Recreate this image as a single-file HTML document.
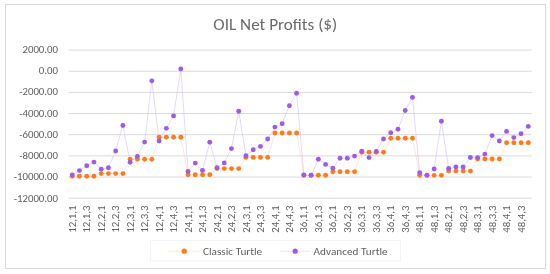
<!DOCTYPE html>
<html><head><meta charset="utf-8"><style>
html,body{margin:0;padding:0;background:#fff;}
svg{display:block;}
text{font-family:Carlito, 'Liberation Sans', sans-serif;fill:#606060;}
</style></head><body>
<svg width="550" height="274" viewBox="0 0 550 274">
<rect x="0" y="0" width="550" height="274" fill="#fff"/>
<rect x="5.5" y="4.5" width="540" height="264" fill="#fff" stroke="#D9D9D9" stroke-width="1"/>
<text transform="translate(275.3,30.2) scale(1,0.94)" text-anchor="middle" font-size="17.15" style="fill:#6a6a6a" textLength="123.88" lengthAdjust="spacingAndGlyphs">OIL Net Profits ($)</text>

<line x1="68.60" y1="50.10" x2="531.7" y2="50.10" stroke="#D9D9D9" stroke-width="1"/>
<line x1="68.60" y1="71.26" x2="531.7" y2="71.26" stroke="#D9D9D9" stroke-width="1"/>
<line x1="68.60" y1="92.41" x2="531.7" y2="92.41" stroke="#D9D9D9" stroke-width="1"/>
<line x1="68.60" y1="113.57" x2="531.7" y2="113.57" stroke="#D9D9D9" stroke-width="1"/>
<line x1="68.60" y1="134.73" x2="531.7" y2="134.73" stroke="#D9D9D9" stroke-width="1"/>
<line x1="68.60" y1="155.89" x2="531.7" y2="155.89" stroke="#D9D9D9" stroke-width="1"/>
<line x1="68.60" y1="177.04" x2="531.7" y2="177.04" stroke="#D9D9D9" stroke-width="1"/>
<line x1="68.60" y1="198.20" x2="531.7" y2="198.20" stroke="#D9D9D9" stroke-width="1"/>
<text transform="translate(58,52.65)" text-anchor="end" font-size="10.8" textLength="35.56" lengthAdjust="spacingAndGlyphs">2000.00</text>
<text transform="translate(58,73.95)" text-anchor="end" font-size="10.8" textLength="19.16" lengthAdjust="spacingAndGlyphs">0.00</text>
<text transform="translate(58,95.24)" text-anchor="end" font-size="10.8" textLength="38.88" lengthAdjust="spacingAndGlyphs">-2000.00</text>
<text transform="translate(58,116.54)" text-anchor="end" font-size="10.8" textLength="38.88" lengthAdjust="spacingAndGlyphs">-4000.00</text>
<text transform="translate(58,137.84)" text-anchor="end" font-size="10.8" textLength="38.88" lengthAdjust="spacingAndGlyphs">-6000.00</text>
<text transform="translate(58,159.14)" text-anchor="end" font-size="10.8" textLength="38.88" lengthAdjust="spacingAndGlyphs">-8000.00</text>
<text transform="translate(58,180.43)" text-anchor="end" font-size="10.8" textLength="44.34" lengthAdjust="spacingAndGlyphs">-10000.00</text>
<text transform="translate(58,201.73)" text-anchor="end" font-size="10.8" textLength="44.34" lengthAdjust="spacingAndGlyphs">-12000.00</text>
<text transform="translate(75.82,205.5) rotate(-90)" text-anchor="end" font-size="10.8" textLength="27.28" lengthAdjust="spacingAndGlyphs">12,1,1</text>
<text transform="translate(90.30,205.5) rotate(-90)" text-anchor="end" font-size="10.8" textLength="27.28" lengthAdjust="spacingAndGlyphs">12,1,3</text>
<text transform="translate(104.78,205.5) rotate(-90)" text-anchor="end" font-size="10.8" textLength="27.28" lengthAdjust="spacingAndGlyphs">12,2,1</text>
<text transform="translate(119.25,205.5) rotate(-90)" text-anchor="end" font-size="10.8" textLength="27.28" lengthAdjust="spacingAndGlyphs">12,2,3</text>
<text transform="translate(133.73,205.5) rotate(-90)" text-anchor="end" font-size="10.8" textLength="27.28" lengthAdjust="spacingAndGlyphs">12,3,1</text>
<text transform="translate(148.21,205.5) rotate(-90)" text-anchor="end" font-size="10.8" textLength="27.28" lengthAdjust="spacingAndGlyphs">12,3,3</text>
<text transform="translate(162.69,205.5) rotate(-90)" text-anchor="end" font-size="10.8" textLength="27.28" lengthAdjust="spacingAndGlyphs">12,4,1</text>
<text transform="translate(177.17,205.5) rotate(-90)" text-anchor="end" font-size="10.8" textLength="27.28" lengthAdjust="spacingAndGlyphs">12,4,3</text>
<text transform="translate(191.64,205.5) rotate(-90)" text-anchor="end" font-size="10.8" textLength="27.28" lengthAdjust="spacingAndGlyphs">24,1,1</text>
<text transform="translate(206.12,205.5) rotate(-90)" text-anchor="end" font-size="10.8" textLength="27.28" lengthAdjust="spacingAndGlyphs">24,1,3</text>
<text transform="translate(220.60,205.5) rotate(-90)" text-anchor="end" font-size="10.8" textLength="27.28" lengthAdjust="spacingAndGlyphs">24,2,1</text>
<text transform="translate(235.08,205.5) rotate(-90)" text-anchor="end" font-size="10.8" textLength="27.28" lengthAdjust="spacingAndGlyphs">24,2,3</text>
<text transform="translate(249.56,205.5) rotate(-90)" text-anchor="end" font-size="10.8" textLength="27.28" lengthAdjust="spacingAndGlyphs">24,3,1</text>
<text transform="translate(264.04,205.5) rotate(-90)" text-anchor="end" font-size="10.8" textLength="27.28" lengthAdjust="spacingAndGlyphs">24,3,3</text>
<text transform="translate(278.51,205.5) rotate(-90)" text-anchor="end" font-size="10.8" textLength="27.28" lengthAdjust="spacingAndGlyphs">24,4,1</text>
<text transform="translate(292.99,205.5) rotate(-90)" text-anchor="end" font-size="10.8" textLength="27.28" lengthAdjust="spacingAndGlyphs">24,4,3</text>
<text transform="translate(307.47,205.5) rotate(-90)" text-anchor="end" font-size="10.8" textLength="27.28" lengthAdjust="spacingAndGlyphs">36,1,1</text>
<text transform="translate(321.95,205.5) rotate(-90)" text-anchor="end" font-size="10.8" textLength="27.28" lengthAdjust="spacingAndGlyphs">36,1,3</text>
<text transform="translate(336.43,205.5) rotate(-90)" text-anchor="end" font-size="10.8" textLength="27.28" lengthAdjust="spacingAndGlyphs">36,2,1</text>
<text transform="translate(350.90,205.5) rotate(-90)" text-anchor="end" font-size="10.8" textLength="27.28" lengthAdjust="spacingAndGlyphs">36,2,3</text>
<text transform="translate(365.38,205.5) rotate(-90)" text-anchor="end" font-size="10.8" textLength="27.28" lengthAdjust="spacingAndGlyphs">36,3,1</text>
<text transform="translate(379.86,205.5) rotate(-90)" text-anchor="end" font-size="10.8" textLength="27.28" lengthAdjust="spacingAndGlyphs">36,3,3</text>
<text transform="translate(394.34,205.5) rotate(-90)" text-anchor="end" font-size="10.8" textLength="27.28" lengthAdjust="spacingAndGlyphs">36,4,1</text>
<text transform="translate(408.82,205.5) rotate(-90)" text-anchor="end" font-size="10.8" textLength="27.28" lengthAdjust="spacingAndGlyphs">36,4,3</text>
<text transform="translate(423.29,205.5) rotate(-90)" text-anchor="end" font-size="10.8" textLength="27.28" lengthAdjust="spacingAndGlyphs">48,1,1</text>
<text transform="translate(437.77,205.5) rotate(-90)" text-anchor="end" font-size="10.8" textLength="27.28" lengthAdjust="spacingAndGlyphs">48,1,3</text>
<text transform="translate(452.25,205.5) rotate(-90)" text-anchor="end" font-size="10.8" textLength="27.28" lengthAdjust="spacingAndGlyphs">48,2,1</text>
<text transform="translate(466.73,205.5) rotate(-90)" text-anchor="end" font-size="10.8" textLength="27.28" lengthAdjust="spacingAndGlyphs">48,2,3</text>
<text transform="translate(481.21,205.5) rotate(-90)" text-anchor="end" font-size="10.8" textLength="27.28" lengthAdjust="spacingAndGlyphs">48,3,1</text>
<text transform="translate(495.69,205.5) rotate(-90)" text-anchor="end" font-size="10.8" textLength="27.28" lengthAdjust="spacingAndGlyphs">48,3,3</text>
<text transform="translate(510.16,205.5) rotate(-90)" text-anchor="end" font-size="10.8" textLength="27.28" lengthAdjust="spacingAndGlyphs">48,4,1</text>
<text transform="translate(524.64,205.5) rotate(-90)" text-anchor="end" font-size="10.8" textLength="27.28" lengthAdjust="spacingAndGlyphs">48,4,3</text>
<polyline points="72.22,176.30 79.46,176.30 86.70,176.30 93.94,176.30 101.18,173.60 108.41,173.60 115.65,173.60 122.89,173.60 130.13,159.20 137.37,159.20 144.61,159.20 151.85,159.20 159.09,137.25 166.33,137.25 173.57,137.25 180.81,137.25 188.04,174.70 195.28,174.70 202.52,174.70 209.76,174.70 217.00,168.60 224.24,168.60 231.48,168.60 238.72,168.60 245.96,157.40 253.20,157.40 260.44,157.40 267.67,157.40 274.91,133.00 282.15,133.00 289.39,133.00 296.63,133.00 303.87,175.30 311.11,175.30 318.35,175.30 325.59,175.30 332.83,171.70 340.06,171.70 347.30,171.70 354.54,171.70 361.78,152.30 369.02,152.30 376.26,152.30 383.50,152.30 390.74,138.20 397.98,138.20 405.22,138.20 412.46,138.20 419.69,175.35 426.93,175.35 434.17,175.35 441.41,175.35 448.65,171.10 455.89,171.10 463.13,171.10 470.37,171.10 477.61,159.00 484.85,159.00 492.09,159.00 499.32,159.00 506.56,142.80 513.80,142.80 521.04,142.80 528.28,142.80" fill="none" stroke="#FBD9C0" stroke-width="0.65" stroke-linejoin="round"/>
<polyline points="72.22,174.90 79.46,170.60 86.70,165.80 93.94,162.10 101.18,169.25 108.41,167.70 115.65,151.00 122.89,125.55 130.13,162.20 137.37,156.40 144.61,142.10 151.85,80.85 159.09,141.05 166.33,128.35 173.57,115.90 180.81,68.90 188.04,171.40 195.28,163.10 202.52,170.40 209.76,142.20 217.00,167.70 224.24,162.90 231.48,148.60 238.72,111.30 245.96,155.80 253.20,149.70 260.44,146.40 267.67,139.05 274.91,127.10 282.15,123.80 289.39,105.70 296.63,93.30 303.87,175.00 311.11,175.30 318.35,159.30 325.59,164.40 332.83,168.20 340.06,158.20 347.30,158.20 354.54,156.10 361.78,151.30 369.02,157.60 376.26,151.40 383.50,139.00 390.74,132.80 397.98,129.30 405.22,110.50 412.46,97.40 419.69,172.80 426.93,175.30 434.17,169.00 441.41,121.30 448.65,168.50 455.89,167.00 463.13,167.00 470.37,157.50 477.61,157.60 484.85,154.10 492.09,135.60 499.32,141.00 506.56,131.40 513.80,137.60 521.04,133.70 528.28,126.40" fill="none" stroke="#D6C3F5" stroke-width="0.65" stroke-linejoin="round"/>
<circle cx="72.22" cy="176.30" r="2.45" fill="#FF7B1C"/>
<circle cx="79.46" cy="176.30" r="2.45" fill="#FF7B1C"/>
<circle cx="86.70" cy="176.30" r="2.45" fill="#FF7B1C"/>
<circle cx="93.94" cy="176.30" r="2.45" fill="#FF7B1C"/>
<circle cx="101.18" cy="173.60" r="2.45" fill="#FF7B1C"/>
<circle cx="108.41" cy="173.60" r="2.45" fill="#FF7B1C"/>
<circle cx="115.65" cy="173.60" r="2.45" fill="#FF7B1C"/>
<circle cx="122.89" cy="173.60" r="2.45" fill="#FF7B1C"/>
<circle cx="130.13" cy="159.20" r="2.45" fill="#FF7B1C"/>
<circle cx="137.37" cy="159.20" r="2.45" fill="#FF7B1C"/>
<circle cx="144.61" cy="159.20" r="2.45" fill="#FF7B1C"/>
<circle cx="151.85" cy="159.20" r="2.45" fill="#FF7B1C"/>
<circle cx="159.09" cy="137.25" r="2.45" fill="#FF7B1C"/>
<circle cx="166.33" cy="137.25" r="2.45" fill="#FF7B1C"/>
<circle cx="173.57" cy="137.25" r="2.45" fill="#FF7B1C"/>
<circle cx="180.81" cy="137.25" r="2.45" fill="#FF7B1C"/>
<circle cx="188.04" cy="174.70" r="2.45" fill="#FF7B1C"/>
<circle cx="195.28" cy="174.70" r="2.45" fill="#FF7B1C"/>
<circle cx="202.52" cy="174.70" r="2.45" fill="#FF7B1C"/>
<circle cx="209.76" cy="174.70" r="2.45" fill="#FF7B1C"/>
<circle cx="217.00" cy="168.60" r="2.45" fill="#FF7B1C"/>
<circle cx="224.24" cy="168.60" r="2.45" fill="#FF7B1C"/>
<circle cx="231.48" cy="168.60" r="2.45" fill="#FF7B1C"/>
<circle cx="238.72" cy="168.60" r="2.45" fill="#FF7B1C"/>
<circle cx="245.96" cy="157.40" r="2.45" fill="#FF7B1C"/>
<circle cx="253.20" cy="157.40" r="2.45" fill="#FF7B1C"/>
<circle cx="260.44" cy="157.40" r="2.45" fill="#FF7B1C"/>
<circle cx="267.67" cy="157.40" r="2.45" fill="#FF7B1C"/>
<circle cx="274.91" cy="133.00" r="2.45" fill="#FF7B1C"/>
<circle cx="282.15" cy="133.00" r="2.45" fill="#FF7B1C"/>
<circle cx="289.39" cy="133.00" r="2.45" fill="#FF7B1C"/>
<circle cx="296.63" cy="133.00" r="2.45" fill="#FF7B1C"/>
<circle cx="303.87" cy="175.30" r="2.45" fill="#FF7B1C"/>
<circle cx="311.11" cy="175.30" r="2.45" fill="#FF7B1C"/>
<circle cx="318.35" cy="175.30" r="2.45" fill="#FF7B1C"/>
<circle cx="325.59" cy="175.30" r="2.45" fill="#FF7B1C"/>
<circle cx="332.83" cy="171.70" r="2.45" fill="#FF7B1C"/>
<circle cx="340.06" cy="171.70" r="2.45" fill="#FF7B1C"/>
<circle cx="347.30" cy="171.70" r="2.45" fill="#FF7B1C"/>
<circle cx="354.54" cy="171.70" r="2.45" fill="#FF7B1C"/>
<circle cx="361.78" cy="152.30" r="2.45" fill="#FF7B1C"/>
<circle cx="369.02" cy="152.30" r="2.45" fill="#FF7B1C"/>
<circle cx="376.26" cy="152.30" r="2.45" fill="#FF7B1C"/>
<circle cx="383.50" cy="152.30" r="2.45" fill="#FF7B1C"/>
<circle cx="390.74" cy="138.20" r="2.45" fill="#FF7B1C"/>
<circle cx="397.98" cy="138.20" r="2.45" fill="#FF7B1C"/>
<circle cx="405.22" cy="138.20" r="2.45" fill="#FF7B1C"/>
<circle cx="412.46" cy="138.20" r="2.45" fill="#FF7B1C"/>
<circle cx="419.69" cy="175.35" r="2.45" fill="#FF7B1C"/>
<circle cx="426.93" cy="175.35" r="2.45" fill="#FF7B1C"/>
<circle cx="434.17" cy="175.35" r="2.45" fill="#FF7B1C"/>
<circle cx="441.41" cy="175.35" r="2.45" fill="#FF7B1C"/>
<circle cx="448.65" cy="171.10" r="2.45" fill="#FF7B1C"/>
<circle cx="455.89" cy="171.10" r="2.45" fill="#FF7B1C"/>
<circle cx="463.13" cy="171.10" r="2.45" fill="#FF7B1C"/>
<circle cx="470.37" cy="171.10" r="2.45" fill="#FF7B1C"/>
<circle cx="477.61" cy="159.00" r="2.45" fill="#FF7B1C"/>
<circle cx="484.85" cy="159.00" r="2.45" fill="#FF7B1C"/>
<circle cx="492.09" cy="159.00" r="2.45" fill="#FF7B1C"/>
<circle cx="499.32" cy="159.00" r="2.45" fill="#FF7B1C"/>
<circle cx="506.56" cy="142.80" r="2.45" fill="#FF7B1C"/>
<circle cx="513.80" cy="142.80" r="2.45" fill="#FF7B1C"/>
<circle cx="521.04" cy="142.80" r="2.45" fill="#FF7B1C"/>
<circle cx="528.28" cy="142.80" r="2.45" fill="#FF7B1C"/>
<circle cx="72.22" cy="174.90" r="2.45" fill="#9C5CE3"/>
<circle cx="79.46" cy="170.60" r="2.45" fill="#9C5CE3"/>
<circle cx="86.70" cy="165.80" r="2.45" fill="#9C5CE3"/>
<circle cx="93.94" cy="162.10" r="2.45" fill="#9C5CE3"/>
<circle cx="101.18" cy="169.25" r="2.45" fill="#9C5CE3"/>
<circle cx="108.41" cy="167.70" r="2.45" fill="#9C5CE3"/>
<circle cx="115.65" cy="151.00" r="2.45" fill="#9C5CE3"/>
<circle cx="122.89" cy="125.55" r="2.45" fill="#9C5CE3"/>
<circle cx="130.13" cy="162.20" r="2.45" fill="#9C5CE3"/>
<circle cx="137.37" cy="156.40" r="2.45" fill="#9C5CE3"/>
<circle cx="144.61" cy="142.10" r="2.45" fill="#9C5CE3"/>
<circle cx="151.85" cy="80.85" r="2.45" fill="#9C5CE3"/>
<circle cx="159.09" cy="141.05" r="2.45" fill="#9C5CE3"/>
<circle cx="166.33" cy="128.35" r="2.45" fill="#9C5CE3"/>
<circle cx="173.57" cy="115.90" r="2.45" fill="#9C5CE3"/>
<circle cx="180.81" cy="68.90" r="2.45" fill="#9C5CE3"/>
<circle cx="188.04" cy="171.40" r="2.45" fill="#9C5CE3"/>
<circle cx="195.28" cy="163.10" r="2.45" fill="#9C5CE3"/>
<circle cx="202.52" cy="170.40" r="2.45" fill="#9C5CE3"/>
<circle cx="209.76" cy="142.20" r="2.45" fill="#9C5CE3"/>
<circle cx="217.00" cy="167.70" r="2.45" fill="#9C5CE3"/>
<circle cx="224.24" cy="162.90" r="2.45" fill="#9C5CE3"/>
<circle cx="231.48" cy="148.60" r="2.45" fill="#9C5CE3"/>
<circle cx="238.72" cy="111.30" r="2.45" fill="#9C5CE3"/>
<circle cx="245.96" cy="155.80" r="2.45" fill="#9C5CE3"/>
<circle cx="253.20" cy="149.70" r="2.45" fill="#9C5CE3"/>
<circle cx="260.44" cy="146.40" r="2.45" fill="#9C5CE3"/>
<circle cx="267.67" cy="139.05" r="2.45" fill="#9C5CE3"/>
<circle cx="274.91" cy="127.10" r="2.45" fill="#9C5CE3"/>
<circle cx="282.15" cy="123.80" r="2.45" fill="#9C5CE3"/>
<circle cx="289.39" cy="105.70" r="2.45" fill="#9C5CE3"/>
<circle cx="296.63" cy="93.30" r="2.45" fill="#9C5CE3"/>
<circle cx="303.87" cy="175.00" r="2.45" fill="#9C5CE3"/>
<circle cx="311.11" cy="175.30" r="2.45" fill="#9C5CE3"/>
<circle cx="318.35" cy="159.30" r="2.45" fill="#9C5CE3"/>
<circle cx="325.59" cy="164.40" r="2.45" fill="#9C5CE3"/>
<circle cx="332.83" cy="168.20" r="2.45" fill="#9C5CE3"/>
<circle cx="340.06" cy="158.20" r="2.45" fill="#9C5CE3"/>
<circle cx="347.30" cy="158.20" r="2.45" fill="#9C5CE3"/>
<circle cx="354.54" cy="156.10" r="2.45" fill="#9C5CE3"/>
<circle cx="361.78" cy="151.30" r="2.45" fill="#9C5CE3"/>
<circle cx="369.02" cy="157.60" r="2.45" fill="#9C5CE3"/>
<circle cx="376.26" cy="151.40" r="2.45" fill="#9C5CE3"/>
<circle cx="383.50" cy="139.00" r="2.45" fill="#9C5CE3"/>
<circle cx="390.74" cy="132.80" r="2.45" fill="#9C5CE3"/>
<circle cx="397.98" cy="129.30" r="2.45" fill="#9C5CE3"/>
<circle cx="405.22" cy="110.50" r="2.45" fill="#9C5CE3"/>
<circle cx="412.46" cy="97.40" r="2.45" fill="#9C5CE3"/>
<circle cx="419.69" cy="172.80" r="2.45" fill="#9C5CE3"/>
<circle cx="426.93" cy="175.30" r="2.45" fill="#9C5CE3"/>
<circle cx="434.17" cy="169.00" r="2.45" fill="#9C5CE3"/>
<circle cx="441.41" cy="121.30" r="2.45" fill="#9C5CE3"/>
<circle cx="448.65" cy="168.50" r="2.45" fill="#9C5CE3"/>
<circle cx="455.89" cy="167.00" r="2.45" fill="#9C5CE3"/>
<circle cx="463.13" cy="167.00" r="2.45" fill="#9C5CE3"/>
<circle cx="470.37" cy="157.50" r="2.45" fill="#9C5CE3"/>
<circle cx="477.61" cy="157.60" r="2.45" fill="#9C5CE3"/>
<circle cx="484.85" cy="154.10" r="2.45" fill="#9C5CE3"/>
<circle cx="492.09" cy="135.60" r="2.45" fill="#9C5CE3"/>
<circle cx="499.32" cy="141.00" r="2.45" fill="#9C5CE3"/>
<circle cx="506.56" cy="131.40" r="2.45" fill="#9C5CE3"/>
<circle cx="513.80" cy="137.60" r="2.45" fill="#9C5CE3"/>
<circle cx="521.04" cy="133.70" r="2.45" fill="#9C5CE3"/>
<circle cx="528.28" cy="126.40" r="2.45" fill="#9C5CE3"/>
<rect x="150.5" y="240.5" width="250" height="20.5" fill="none" stroke="#F3F3F3" stroke-width="1"/>
<line x1="168" y1="251.2" x2="200.1" y2="251.2" stroke="#FBD9C0" stroke-width="0.65" stroke-opacity="0.75"/>
<circle cx="184.2" cy="251.2" r="2.6" fill="#FF7B1C"/>
<text transform="translate(203,254.9) scale(1,0.95)" font-size="11.25" textLength="59.21" lengthAdjust="spacingAndGlyphs">Classic Turtle</text>
<line x1="279.8" y1="251.2" x2="310" y2="251.2" stroke="#D6C3F5" stroke-width="0.65" stroke-opacity="0.75"/>
<circle cx="295.2" cy="251.2" r="2.6" fill="#9C5CE3"/>
<text transform="translate(313.6,254.9) scale(1,0.95)" font-size="11.25" textLength="74.00" lengthAdjust="spacingAndGlyphs">Advanced Turtle</text>
</svg>
</body></html>
